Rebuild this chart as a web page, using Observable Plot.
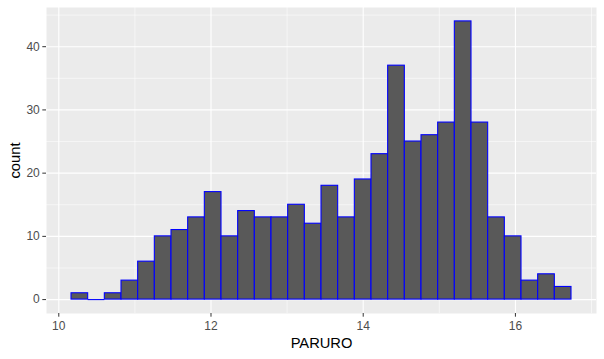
<!DOCTYPE html>
<html>
<head>
<meta charset="utf-8">
<script src="https://cdn.jsdelivr.net/npm/d3@7"></script>
<script src="https://cdn.jsdelivr.net/npm/@observablehq/plot@0.6"></script>
<style>
  html, body { margin: 0; padding: 0; background: #fff; }
</style>
</head>
<body>
<div id="chart"></div>
<script>
// Histogram of PARURO (30 bins)
const binStart = 10.167;
const binWidth = 0.219;
const counts = [1, 0, 1, 3, 6, 10, 11, 13, 17, 10, 14, 13, 13, 15, 12, 18, 13, 19, 23, 37, 25, 26, 28, 44, 28, 13, 10, 3, 4, 2];
const xTicks = [10, 12, 14, 16];
const xMinor = [11, 13, 15, 17];
const yTicks = [0, 10, 20, 30, 40];
const yMinor = [5, 15, 25, 35, 45];

const bins = counts.map((c, i) => ({
  x1: binStart + i * binWidth,
  x2: binStart + (i + 1) * binWidth,
  count: c
}));

const xlo = binStart, xhi = binStart + counts.length * binWidth;
const xpad = (xhi - xlo) * 0.05;
const ymax = d3.max(counts);
const ypad = ymax * 0.05;

const chart = Plot.plot({
  width: 604,
  height: 359,
  marginLeft: 46,
  marginRight: 8,
  marginTop: 7,
  marginBottom: 46,
  style: { fontFamily: "'Liberation Sans', Arial, sans-serif", fontSize: "12px", background: "#fff" },
  x: { domain: [xlo - xpad, xhi + xpad] },
  y: { domain: [-ypad, ymax + ypad] },
  marks: [
    Plot.frame({ fill: "#EBEBEB", stroke: null }),
    Plot.ruleX(xMinor, { stroke: "#fff", strokeWidth: 0.55 }),
    Plot.ruleY(yMinor, { stroke: "#fff", strokeWidth: 0.55 }),
    Plot.ruleX(xTicks, { stroke: "#fff", strokeWidth: 1.1 }),
    Plot.ruleY(yTicks, { stroke: "#fff", strokeWidth: 1.1 }),
    Plot.rectY(bins, { x1: "x1", x2: "x2", y1: 0, y2: "count", fill: "#595959", stroke: "#0000FF", strokeWidth: 1.1, inset: 0 }),
    Plot.ruleY(bins.filter(d => d.count === 0), { y: "count", x1: "x1", x2: "x2", stroke: "#0000FF", strokeWidth: 1.1 }),
    Plot.axisX({ ticks: xTicks, tickSize: 3.7, tickPadding: 4, fontSize: 12, color: "#4D4D4D",
      label: "PARURO", labelAnchor: "center", labelArrow: "none", labelOffset: 34 }),
    Plot.axisY({ ticks: yTicks, tickSize: 3.7, tickPadding: 3, fontSize: 12, color: "#4D4D4D",
      label: "count", labelAnchor: "center", labelArrow: "none", labelOffset: 37 })
  ]
});

const svg = d3.select(chart);
// axis titles: black, larger
svg.selectAll("g[aria-label='x-axis label'] text, g[aria-label='y-axis label'] text")
  .attr("fill", "#000").style("font-size", "14.7px");
svg.selectAll("g[aria-label='x-axis tick'] path, g[aria-label='y-axis tick'] path")
  .attr("stroke", "#333");

document.getElementById("chart").appendChild(chart);
</script>
</body>
</html>
